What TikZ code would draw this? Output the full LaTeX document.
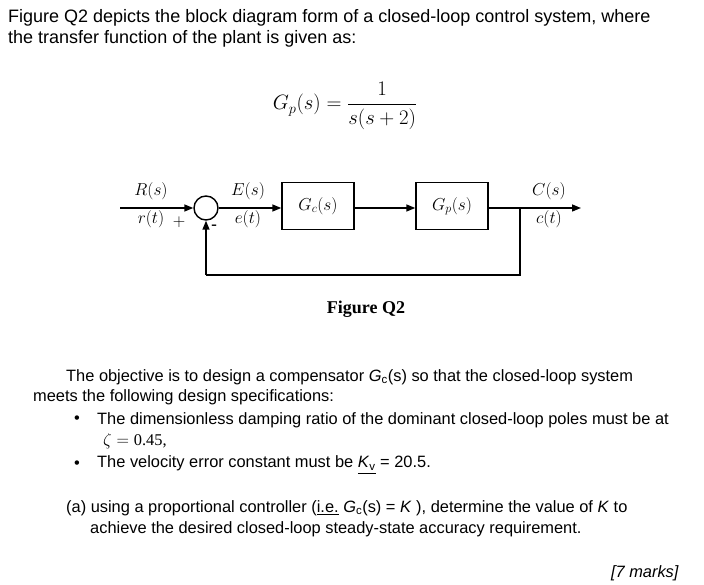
\documentclass[tikz,border=0pt]{standalone}
\usepackage{fontspec}
\setmainfont{Liberation Sans}
\newfontfamily\tnr{Liberation Serif}
\usepackage{amsmath}
\usetikzlibrary{arrows.meta}
\begin{document}
\begin{tikzpicture}[x=1pt,y=-1pt,
  txt/.style={anchor=west,inner sep=0pt,font=\fontsize{18}{20}\selectfont},
  txs/.style={anchor=west,inner sep=0pt,font=\fontsize{16.4}{20}\selectfont},
  blk/.style={draw,line width=1.4pt,minimum width=72pt,minimum height=47pt,font=\fontsize{18}{20}\selectfont},
  lab/.style={inner sep=0pt,font=\fontsize{18}{20}\selectfont},
  sig/.style={line width=1.4pt,-{Triangle[length=9pt,width=7pt]}},
  ln/.style={line width=1.4pt}]
\useasboundingbox (0,0) rectangle (704,585);
\node[txt] (t1) at (8,18) {Figure Q2 depicts the block diagram form of a closed-loop control system, where};
\node[txt] (t2) at (8,39) {the transfer function of the plant is given as:};
\node[inner sep=0pt,font=\fontsize{21}{24}\selectfont] (eq) at (345,106) {$G_p(s)=\dfrac{1}{s(s+2)}$};
% block diagram
\coordinate (in) at (120,208);
\node[draw,circle,line width=1.4pt,minimum size=24pt,inner sep=0pt] (sum) at (206,208) {};
\node[blk] (gc) at (318,206) {$G_c(s)$};
\node[blk] (gp) at (452,206) {$G_p(s)$};
\coordinate (br) at (520,208);
\coordinate (out) at (581,208);
\coordinate (d1) at (520,275);
\coordinate (d2) at (206,275);
\draw[sig] (in) -- (sum.west);
\draw[sig] (sum.east) -- (gc.west |- sum.east);
\draw[sig] (gc.east |- br) -- (gp.west |- br);
\draw[ln] (gp.east |- br) -- (br);
\draw[sig] (br) -- (out);
\draw[ln] (br) -- (d1) -- (d2);
\draw[sig] (d2) -- (sum.south);
\node[lab] (R) at (151,191) {$R(s)$};
\node[lab] (r) at (151,219) {$r(t)$};
\node[lab] (plus) at (179,222) {$+$};
\node[lab] (minus) at (214,228) {-};
\node[lab] (E) at (248,191) {$E(s)$};
\node[lab] (e) at (248,219) {$e(t)$};
\node[lab] (C) at (549,191) {$C(s)$};
\node[lab] (c) at (549,219) {$c(t)$};
\node[inner sep=0pt,font=\tnr\bfseries\fontsize{18}{20}\selectfont] (fig) at (366,309) {Figure Q2};
% text
\node[txs] (p1) at (66,377) {The objective is to design a compensator \textit{G}\textsubscript{c}(s) so that the closed-loop system};
\node[txs] (p2) at (33,397) {meets the following design specifications:};
\node[txs] (b1) at (74,420) {•};
\node[txs] (l1) at (97,420) {The dimensionless damping ratio of the dominant closed-loop poles must be at};
\node[txs] (l2) at (103,441) {$\zeta=\text{\tnr 0.45,}$};
\node[txs] (b2) at (74,465) {•};
\node[txs] (l3) at (97,465) {The velocity error constant must be \underline{\textit{K}\textsubscript{v}} = 20.5.};
\node[txs] (a1) at (66,508) {(a) using a proportional controller (\underline{i.e.} \textit{G}\textsubscript{c}(s) = \textit{K} ), determine the value of \textit{K} to};
\node[txs] (a2) at (90,529) {achieve the desired closed-loop steady-state accuracy requirement.};
\node[txs,anchor=east] (m) at (679,573) {\textit{[7 marks]}};
\end{tikzpicture}
\end{document}
